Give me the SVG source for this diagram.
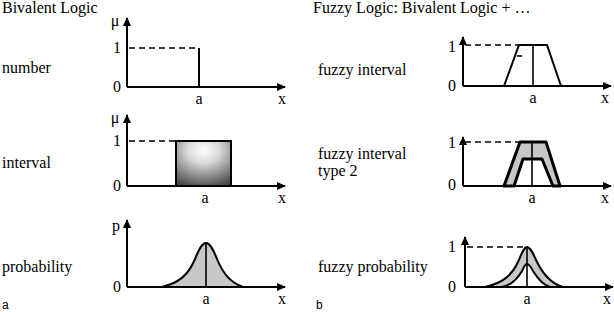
<svg xmlns="http://www.w3.org/2000/svg" width="614" height="312" viewBox="0 0 614 312">
<style>
text{font-family:"Liberation Serif","Times New Roman",serif;font-size:16px;fill:#000}
.sm{font-family:"Liberation Sans",Arial,sans-serif;font-size:12px}
.ax{stroke:#000;stroke-width:2;fill:none}
.ln{stroke:#000;stroke-width:1.6;fill:none}
.dash{stroke:#000;stroke-width:1.5;stroke-dasharray:6 4;fill:none}
.mid{text-anchor:middle}
</style>
<defs>
<marker id="arr" markerUnits="userSpaceOnUse" markerWidth="10" markerHeight="8" refX="8" refY="4" orient="auto">
<path d="M0,0 L9,4 L0,8 Z" fill="#000"/>
</marker>
<radialGradient id="grad" cx="0.5" cy="0.2" r="0.85">
<stop offset="0" stop-color="#ffffff"/>
<stop offset="0.35" stop-color="#d8d8d8"/>
<stop offset="1" stop-color="#4a4a4a"/>
</radialGradient>
</defs>

<text x="2" y="13">Bivalent Logic</text>
<text x="313" y="13">Fuzzy Logic: Bivalent Logic + …</text>
<text class="sm" x="2" y="309">a</text>
<text class="sm" x="316" y="309">b</text>

<g id="number">
<text x="2" y="73">number</text>
<path class="ax" d="M127,87 V18" marker-end="url(#arr)"/>
<path class="ax" d="M127,87 H285" marker-end="url(#arr)"/>
<text class="mid" x="115" y="26">μ</text>
<text class="mid" x="117" y="53">1</text>
<text class="mid" x="117" y="92">0</text>
<path class="dash" d="M129,48 H199"/>
<path class="ax" d="M199,48 V87"/>
<text class="mid" x="199" y="104">a</text>
<text class="mid" x="282" y="104">x</text>
</g>

<g id="interval">
<text x="2" y="168">interval</text>
<path class="ax" d="M127,186 V115" marker-end="url(#arr)"/>
<path class="ax" d="M127,186 H285" marker-end="url(#arr)"/>
<text class="mid" x="115" y="123">μ</text>
<text class="mid" x="117" y="146">1</text>
<text class="mid" x="117" y="191">0</text>
<path class="dash" d="M129,141 H176" stroke="#444"/>
<rect x="176" y="141" width="55" height="45" fill="url(#grad)" stroke="#000" stroke-width="2"/>
<text class="mid" x="205" y="203">a</text>
<text class="mid" x="282" y="203">x</text>
</g>

<g id="probability">
<text x="2" y="272">probability</text>
<path class="ax" d="M127,287 V220" marker-end="url(#arr)"/>
<path class="ax" d="M127,287 H285" marker-end="url(#arr)"/>
<text class="mid" x="116" y="231">p</text>
<text class="mid" x="117" y="292">0</text>
<path d="M162,287 C178,283 188,276 195,259 C199,249 202,243 206,243 C210,243 213,249 217,259 C224,276 232,283 243,287 Z" fill="#c8c8c8" stroke="#000" stroke-width="2"/>
<path class="ln" d="M206,243 V287"/>
<text class="mid" x="206" y="304">a</text>
<text class="mid" x="282" y="304">x</text>
</g>

<g id="fuzzy-interval">
<text x="318" y="75">fuzzy interval</text>
<path class="ax" d="M463,86 V37" marker-end="url(#arr)"/>
<path class="ax" d="M463,86 H611" marker-end="url(#arr)"/>
<text class="mid" x="452" y="52">1</text>
<text class="mid" x="452" y="91">0</text>
<path class="dash" d="M465,45 H519"/>
<path class="ax" d="M504,86 L519,45 H547 L561,86"/>
<path class="ln" d="M533,45 V86"/>
<path class="ln" d="M517,56 H522"/>
<text class="mid" x="533" y="103">a</text>
<text class="mid" x="605" y="103">x</text>
</g>

<g id="fuzzy-interval-type-2">
<text x="318" y="159">fuzzy interval</text>
<text x="318" y="176">type 2</text>
<path class="ax" d="M463,186 V137" marker-end="url(#arr)"/>
<path class="ax" d="M463,186 H611" marker-end="url(#arr)"/>
<text class="mid" x="452" y="148">1</text>
<text class="mid" x="452" y="190">0</text>
<path class="dash" d="M465,142 H520"/>
<path d="M504,186 L520,142 H546 L560,186 H553 L542,159 H523 L514,186 Z" fill="#c8c8c8" stroke="#000" stroke-width="3" stroke-linejoin="round"/>
<path class="ln" d="M532,142 V186"/>
<text class="mid" x="532" y="203">a</text>
<text class="mid" x="605" y="203">x</text>
</g>

<g id="fuzzy-probability">
<text x="318" y="272">fuzzy probability</text>
<path class="ax" d="M465,287 V237" marker-end="url(#arr)"/>
<path class="ax" d="M465,287 H613" marker-end="url(#arr)"/>
<text class="mid" x="452" y="252">1</text>
<text class="mid" x="452" y="292">0</text>
<path class="dash" d="M467,247 H527"/>
<path d="M485,287 C503,283 512,275 518,262 C522,253 524,247 527,247 C530,247 533,253 537,262 C544,276 552,284 563,287 L550,287 C543,285 538,279 533,271 C531,267 529,264 527,264 C525,264 524,267 522,271 C518,278 512,285 502,287 Z" fill="#c8c8c8" stroke="#000" stroke-width="2" stroke-linejoin="round"/>
<path class="ln" d="M527,247 V287"/>
<text class="mid" x="527" y="304">a</text>
<text class="mid" x="607" y="304">x</text>
</g>
</svg>
